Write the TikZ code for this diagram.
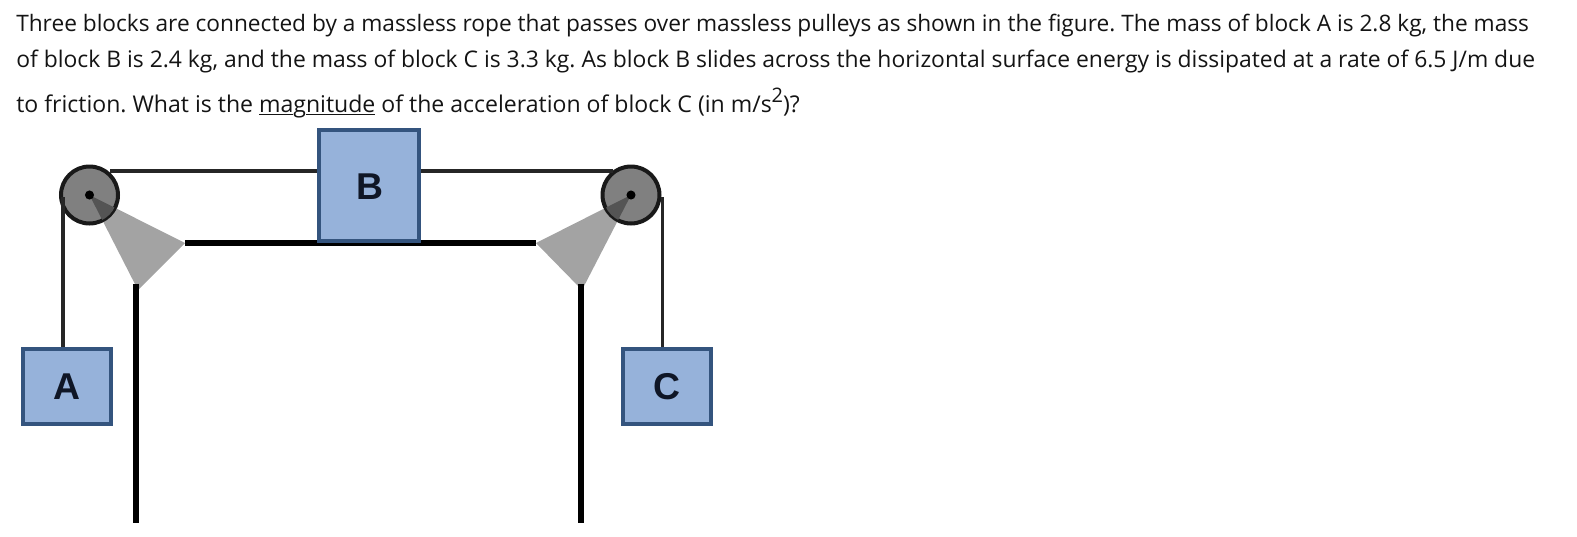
\documentclass[tikz,border=0pt]{standalone}
\usepackage{fontspec}
\setmainfont{Open Sans}
\newfontfamily\labelfont{Liberation Sans}
\definecolor{blockfill}{RGB}{150,178,218}
\definecolor{blockedge}{RGB}{52,84,126}
\definecolor{labelink}{RGB}{15,22,38}
\newcommand{\ulseg}[1]{\setbox0=\hbox{#1}\rlap{\rule[-2.4pt]{\wd0}{0.95pt}}#1}
\tikzset{x=0.75pt,y=-0.75pt,
 blockbox/.style={draw=blockedge,line width=3pt,fill=blockfill,inner sep=0pt},
 blocklabel/.style={font=\labelfont\fontsize{28}{28}\selectfont\bfseries,text=labelink,inner sep=0pt},
 rope/.style={draw=black!85,line width=2.3pt},
 frame/.style={draw=black,line width=4.5pt},
 wheel/.style={circle,draw=black!90,line width=3pt,fill=black!50,minimum size=42.75pt,inner sep=0pt},
 hub/.style={circle,fill=black,minimum size=6.8pt,inner sep=0pt},
 bracket/.style={fill=black!36},
 para/.style={anchor=base west,inner sep=0pt,text=black!92}}
\begin{document}
\begin{tikzpicture}
\frenchspacing
\useasboundingbox (0,0) rectangle (1577,536);
\node[para,font=\fontsize{17.01}{20}\selectfont] (l1) at (16,31.5) {Three blocks are connected by a massless rope that passes over massless pulleys as shown in the figure. The mass of block A is 2.8 kg, the mass};
\node[para,font=\fontsize{17.17}{20}\selectfont] (l2) at (16,67) {of block B is 2.4 kg, and the mass of block C is 3.3 kg. As block B slides across the horizontal surface energy is dissipated at a rate of 6.5 J/m due};
\node[para,font=\fontsize{17.3}{20}\selectfont] (l3) at (16,112) {to friction. What is the \ulseg{ma}g\ulseg{nitude} of the acceleration of block C (in m/s\raisebox{7.5pt}{\fontsize{15}{15}\selectfont 2})?};
\coordinate (cl) at (89.5,195);
\coordinate (cr) at (631,195);
\coordinate (tl1) at (185,243);
\coordinate (tl2) at (138,290);
\coordinate (tr1) at (536,243);
\coordinate (tr2) at (582,290);
\fill[bracket] (cl) -- (tl1) -- (tl2) -- cycle;
\fill[bracket] (cr) -- (tr1) -- (tr2) -- cycle;
\node[wheel] (pL) at (cl) {};
\node[wheel] (pR) at (cr) {};
\begin{scope}
\clip (cl) circle[radius=28];
\fill[black!67] (cl) -- (tl1) -- (tl2) -- cycle;
\end{scope}
\begin{scope}
\clip (cr) circle[radius=28];
\fill[black!67] (cr) -- (tr1) -- (tr2) -- cycle;
\end{scope}
\node[hub] (hL) at (cl) {};
\node[hub] (hR) at (cr) {};
\coordinate (sT) at (185,243);
\coordinate (eT) at (536,243);
\coordinate (pa) at (136,283.5);
\coordinate (pb) at (136,523);
\coordinate (qa) at (581,283.5);
\coordinate (qb) at (581,523);
\draw[frame] (sT) -- (eT);
\draw[frame] (pa) -- (pb);
\draw[frame] (qa) -- (qb);
\coordinate (rl) at (110,171);
\coordinate (rr) at (613,171);
\coordinate (vl) at (63,197);
\coordinate (vr) at (662.5,197);
\node[blockbox,minimum width=75pt,minimum height=83.25pt] (B) at (369,185.5) {};
\node[blockbox,minimum width=66pt,minimum height=56.25pt] (A) at (67,386.5) {};
\node[blockbox,minimum width=66pt,minimum height=56.25pt] (C) at (667,386.5) {};
\node[blocklabel] (bB) at (369.5,187) {B};
\node[blocklabel] (bA) at (67,387) {A};
\node[blocklabel] (bC) at (667,387) {C};
\draw[rope] (rl) -- (rl -| B.west);
\draw[rope] (rr) -- (rr -| B.east);
\draw[rope] (vl) -- (vl |- A.north);
\draw[rope] (vr) -- (vr |- C.north);
\end{tikzpicture}
\end{document}
